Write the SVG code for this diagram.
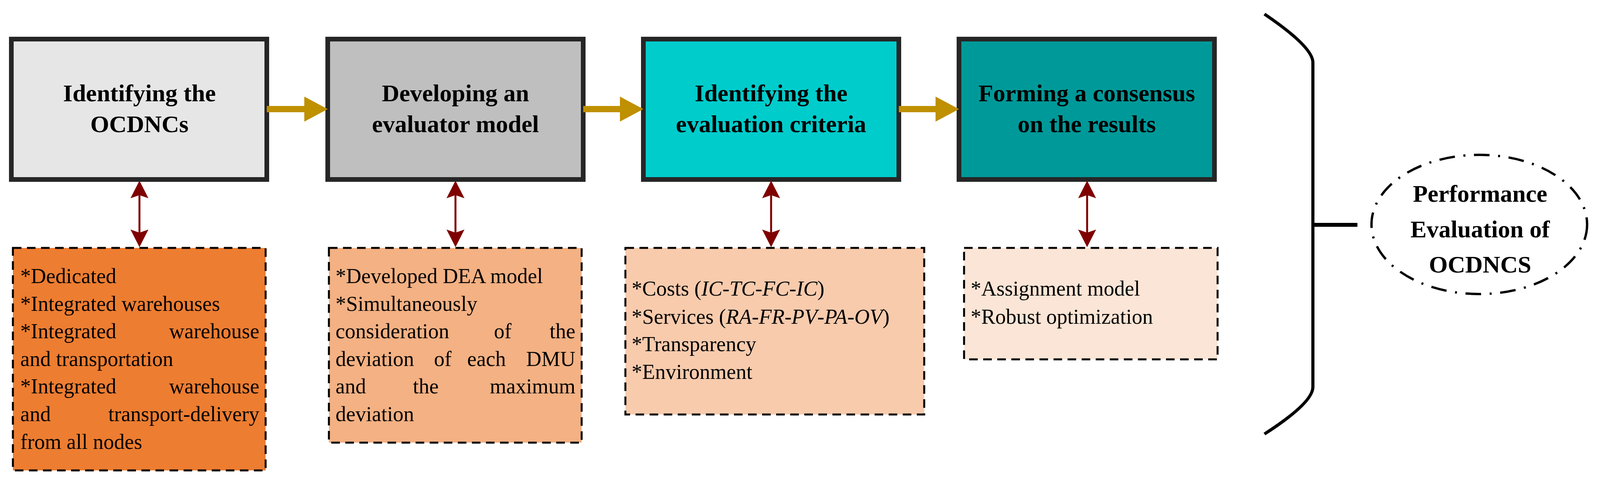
<svg xmlns="http://www.w3.org/2000/svg" width="4103" height="1248" viewBox="0 0 4103 1248">
<style>
.top{stroke:#262626;stroke-width:12}
.title{font-family:"Liberation Serif",serif;font-weight:bold;font-size:62px;text-anchor:middle;fill:#000}
.low{stroke:#000;stroke-width:5;stroke-dasharray:22 14}
.t{font-family:"Liberation Serif",serif;font-size:54px;fill:#000}
.r{text-anchor:end}
.gold{fill:#bf9000}
.dr{stroke:#7f0000;stroke-width:5}
.drh{fill:#7f0000}
</style>
<rect width="4103" height="1248" fill="#fff"/>
<g id="n1"><rect class="top" x="29" y="100" width="654" height="359" fill="#e6e6e6"/>
<text class="title" x="357" y="259">Identifying the</text><text class="title" x="357" y="338">OCDNCs</text></g>
<g id="n2"><rect class="top" x="839" y="100" width="654" height="359" fill="#bfbfbf"/>
<text class="title" x="1166" y="259">Developing an</text><text class="title" x="1166" y="338">evaluator model</text></g>
<g id="n3"><rect class="top" x="1647" y="100" width="654" height="359" fill="#00cccc"/>
<text class="title" x="1974" y="259">Identifying the</text><text class="title" x="1974" y="338">evaluation criteria</text></g>
<g id="n4"><rect class="top" x="2455" y="100" width="654" height="359" fill="#009999"/>
<text class="title" x="2782" y="259">Forming a consensus</text><text class="title" x="2782" y="338">on the results</text></g>
<g id="d1"><rect class="low" x="33" y="634" width="647" height="569" fill="#ed7d31"/>
<text class="t" x="52" y="724">*Dedicated</text>
<text class="t" x="52" y="795">*Integrated warehouses</text>
<text class="t" x="52" y="865">*Integrated</text><text class="t r" x="664" y="865">warehouse</text>
<text class="t" x="52" y="936">and transportation</text>
<text class="t" x="52" y="1006">*Integrated</text><text class="t r" x="664" y="1006">warehouse</text>
<text class="t" x="52" y="1077">and</text><text class="t r" x="664" y="1077">transport-delivery</text>
<text class="t" x="52" y="1148">from all nodes</text></g>
<g id="d2"><rect class="low" x="842" y="634" width="647" height="498" fill="#f4b183"/>
<text class="t" x="859" y="724">*Developed DEA model</text>
<text class="t" x="859" y="795">*Simultaneously</text>
<text class="t" x="859" y="865">consideration</text><text class="t" x="1287" y="865" text-anchor="middle">of</text><text class="t r" x="1473" y="865">the</text>
<text class="t" x="859" y="936">deviation</text><text class="t" x="1111" y="936">of</text><text class="t" x="1196" y="936">each</text><text class="t r" x="1473" y="936">DMU</text>
<text class="t" x="859" y="1006">and</text><text class="t" x="1090" y="1006" text-anchor="middle">the</text><text class="t r" x="1473" y="1006">maximum</text>
<text class="t" x="859" y="1077">deviation</text></g>
<g id="d3"><rect class="low" x="1601" y="634" width="765" height="426" fill="#f8cbad"/>
<text class="t" x="1617" y="756">*Costs (<tspan font-style="italic">IC</tspan>-<tspan font-style="italic">TC</tspan>-<tspan font-style="italic">FC</tspan>-<tspan font-style="italic">IC</tspan>)</text>
<text class="t" x="1617" y="828">*Services (<tspan font-style="italic">RA</tspan>-<tspan font-style="italic">FR</tspan>-<tspan font-style="italic">PV</tspan>-<tspan font-style="italic">PA</tspan>-<tspan font-style="italic">OV</tspan>)</text>
<text class="t" x="1617" y="898">*Transparency</text>
<text class="t" x="1617" y="969">*Environment</text></g>
<g id="d4"><rect class="low" x="2468" y="634" width="649" height="285" fill="#fbe5d6"/>
<text class="t" x="2485" y="756">*Assignment model</text>
<text class="t" x="2485" y="828">*Robust optimization</text></g>
<g id="result"><ellipse cx="3787" cy="574" rx="276" ry="178" fill="#fff" stroke="#000" stroke-width="6" stroke-dasharray="40 22 5 22"/>
<text class="title" x="3789" y="516">Performance</text><text class="title" x="3789" y="607">Evaluation of</text><text class="title" x="3789" y="697">OCDNCS</text></g>
<g id="connectors">
<rect class="gold" x="683" y="271" width="100" height="16"/><polygon class="gold" points="779,247 839,279 779,311"/>
<rect class="gold" x="1493" y="271" width="98" height="16"/><polygon class="gold" points="1587,247 1647,279 1587,311"/>
<rect class="gold" x="2301" y="271" width="98" height="16"/><polygon class="gold" points="2395,247 2455,279 2395,311"/>
<g class="dr"><line x1="357" y1="495" x2="357" y2="596"/><line x1="1166" y1="495" x2="1166" y2="596"/><line x1="1974" y1="495" x2="1974" y2="596"/><line x1="2783" y1="495" x2="2783" y2="596"/></g>
<g class="drh">
<polygon points="357,462 380,507 357,499 334,507"/><polygon points="357,632 380,587 357,595 334,587"/>
<polygon points="1166,462 1189,507 1166,499 1143,507"/><polygon points="1166,632 1189,587 1166,595 1143,587"/>
<polygon points="1974,462 1997,507 1974,499 1951,507"/><polygon points="1974,632 1997,587 1974,595 1951,587"/>
<polygon points="2783,462 2806,507 2783,499 2760,507"/><polygon points="2783,632 2806,587 2783,595 2760,587"/>
</g>
<path d="M3237,36 Q3361,120 3361,160 L3361,990 Q3361,1030 3237,1110" fill="none" stroke="#000" stroke-width="8"/>
<line x1="3361" y1="575" x2="3475" y2="575" stroke="#000" stroke-width="10"/>
</g>
</svg>
